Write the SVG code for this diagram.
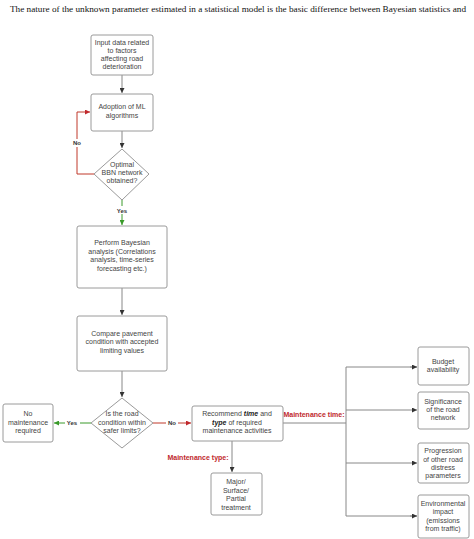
<svg xmlns="http://www.w3.org/2000/svg" width="474" height="539" viewBox="0 0 474 539">
<defs>
<style>
.box{fill:#fff;stroke:#9a9a9a;stroke-width:1}
.t{font-family:"Liberation Sans",Arial,sans-serif;font-size:7px;fill:#444;text-anchor:middle}
.c{fill:none;stroke:#888;stroke-width:1}
.r{fill:none;stroke:#c0392b;stroke-width:1}
.g{fill:none;stroke:#3a9a2a;stroke-width:1}
.lbl{font-family:"Liberation Sans",Arial,sans-serif;font-size:6px;font-weight:bold;fill:#333;text-anchor:middle}
.red{font-family:"Liberation Sans",Arial,sans-serif;font-size:7px;font-weight:bold;fill:#c0282d;text-anchor:middle}
</style>
<marker id="ag" viewBox="0 0 6 6" refX="6" refY="3" markerWidth="5" markerHeight="5" orient="auto"><path d="M0,0 L6,3 L0,6 z" fill="#333"/></marker>
<marker id="ar" viewBox="0 0 6 6" refX="6" refY="3" markerWidth="5" markerHeight="5" orient="auto"><path d="M0,0 L6,3 L0,6 z" fill="#c0282d"/></marker>
<marker id="agr" viewBox="0 0 6 6" refX="6" refY="3" markerWidth="5" markerHeight="5" orient="auto"><path d="M0,0 L6,3 L0,6 z" fill="#3a9a2a"/></marker>
</defs>
<rect width="474" height="539" fill="#fff"/>
<text x="10" y="12" font-family="Liberation Serif,Times New Roman,serif" font-size="9" fill="#111" textLength="456" lengthAdjust="spacingAndGlyphs">The nature of the unknown parameter estimated in a statistical model is the basic difference between Bayesian statistics and</text>

<g id="connectors">
<line class="c" x1="122" y1="75" x2="122" y2="93" marker-end="url(#ag)"/>
<line class="c" x1="122" y1="131" x2="122" y2="148" marker-end="url(#ag)"/>
<polyline class="r" points="94,174 77,174 77,112 90,112" marker-end="url(#ar)"/>
<rect x="71" y="139" width="12" height="8" fill="#fff"/>
<text class="lbl" x="77" y="145">No</text>
<line class="g" x1="122" y1="200" x2="122" y2="225" marker-end="url(#agr)"/>
<rect x="114" y="206" width="16" height="8" fill="#fff"/>
<text class="lbl" x="122" y="213">Yes</text>
<line class="c" x1="122" y1="288" x2="122" y2="315" marker-end="url(#ag)"/>
<line class="c" x1="122" y1="371" x2="122" y2="397" marker-end="url(#ag)"/>
<line class="g" x1="91" y1="423" x2="54" y2="423" marker-end="url(#agr)"/>
<rect x="65" y="419" width="15" height="8" fill="#fff"/>
<text class="lbl" x="72" y="425">Yes</text>
<line class="r" x1="153" y1="423" x2="191" y2="423" marker-end="url(#ar)"/>
<rect x="166" y="419" width="12" height="8" fill="#fff"/>
<text class="lbl" x="172" y="425">No</text>
<line class="c" x1="283" y1="423" x2="346" y2="423"/>
<polyline class="c" points="417,367 346,367 346,516 417,516"/>
<line class="c" x1="346" y1="410" x2="417" y2="410" marker-end="url(#ag)"/>
<line class="c" x1="346" y1="463" x2="417" y2="463" marker-end="url(#ag)"/>
<line class="c" x1="410" y1="367" x2="417" y2="367" marker-end="url(#ag)"/>
<line class="c" x1="410" y1="516" x2="417" y2="516" marker-end="url(#ag)"/>
<line class="c" x1="232" y1="441" x2="232" y2="472" marker-end="url(#ag)"/>
<text class="red" x="314" y="417">Maintenance time:</text>
<text class="red" x="198" y="460">Maintenance type:</text>
</g>

<g id="n1"><rect class="box" x="91" y="35" width="62" height="40" rx="2"/>
<text class="t" x="122" y="45">Input data related</text><text class="t" x="122" y="53">to factors</text><text class="t" x="122" y="61">affecting road</text><text class="t" x="122" y="69">deterioration</text></g>

<g id="n2"><rect class="box" x="91" y="94" width="62" height="37" rx="2"/>
<text class="t" x="122" y="109">Adoption of ML</text><text class="t" x="122" y="118">algorithms</text></g>

<g id="n3"><polygon class="box" points="122,149 149,174 122,200 94,174"/>
<text class="t" x="122" y="167">Optimal</text><text class="t" x="122" y="175">BBN network</text><text class="t" x="122" y="183">obtained?</text></g>

<g id="n4"><rect class="box" x="77" y="226" width="90" height="62" rx="2"/>
<text class="t" x="122" y="245">Perform Bayesian</text><text class="t" x="122" y="254">analysis (Correlations</text><text class="t" x="122" y="262">analysis, time-series</text><text class="t" x="122" y="271">forecasting etc.)</text></g>

<g id="n5"><rect class="box" x="77" y="316" width="90" height="55" rx="2"/>
<text class="t" x="122" y="336">Compare pavement</text><text class="t" x="122" y="344">condition with accepted</text><text class="t" x="122" y="353">limiting values</text></g>

<g id="n6"><polygon class="box" points="122,398 153,423 122,448 91,423"/>
<text class="t" x="122" y="416">Is the road</text><text class="t" x="122" y="425">condition within</text><text class="t" x="122" y="433">safer limits?</text></g>

<g id="n7"><rect class="box" x="3" y="404" width="50" height="38" rx="2"/>
<text class="t" x="28" y="416">No</text><text class="t" x="28" y="425">maintenance</text><text class="t" x="28" y="433">required</text></g>

<g id="n8"><rect class="box" x="192" y="406" width="91" height="35" rx="2"/>
<text class="t" x="237" y="416">Recommend <tspan font-weight="bold" font-style="italic" fill="#222">time</tspan> and</text>
<text class="t" x="237" y="425"><tspan font-weight="bold" font-style="italic" fill="#222">type</tspan> of required</text>
<text class="t" x="237" y="433">maintenance activities</text></g>

<g id="n9"><rect class="box" x="211" y="473" width="51" height="42" rx="2"/>
<text class="t" x="236" y="484">Major/</text><text class="t" x="236" y="493">Surface/</text><text class="t" x="236" y="501">Partial</text><text class="t" x="236" y="510">treatment</text></g>

<g id="n10"><rect class="box" x="418" y="347" width="51" height="38" rx="2"/>
<text class="t" x="443" y="364">Budget</text><text class="t" x="443" y="372">availability</text></g>

<g id="n11"><rect class="box" x="418" y="392" width="51" height="37" rx="2"/>
<text class="t" x="443" y="404">Significance</text><text class="t" x="443" y="412">of the road</text><text class="t" x="443" y="420">network</text></g>

<g id="n12"><rect class="box" x="418" y="443" width="51" height="40" rx="2"/>
<text class="t" x="443" y="453">Progression</text><text class="t" x="443" y="462">of other road</text><text class="t" x="443" y="470">distress</text><text class="t" x="443" y="478">parameters</text></g>

<g id="n13"><rect class="box" x="418" y="495" width="51" height="43" rx="2"/>
<text class="t" x="443" y="506">Environmental</text><text class="t" x="443" y="514">impact</text><text class="t" x="443" y="523">(emissions</text><text class="t" x="443" y="531">from traffic)</text></g>
</svg>
